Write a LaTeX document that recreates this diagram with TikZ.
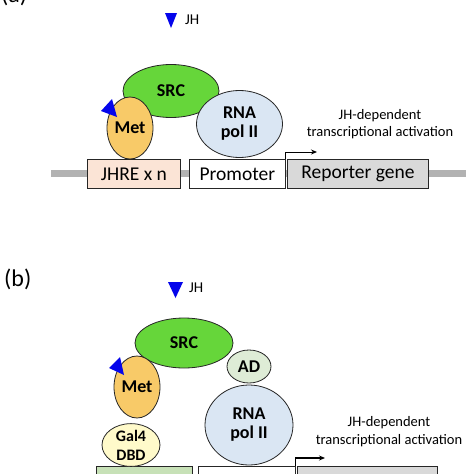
\documentclass[tikz,border=0pt]{standalone}
\usepackage{fontspec}
\setmainfont{Carlito}
\usetikzlibrary{shapes.geometric,arrows.meta}
\definecolor{srcgreen}{RGB}{102,214,58}
\definecolor{metorange}{RGB}{248,202,104}
\definecolor{polblue}{RGB}{218,230,243}
\definecolor{adgreen}{RGB}{222,236,214}
\definecolor{galyellow}{RGB}{255,250,202}
\definecolor{jhrepink}{RGB}{251,228,214}
\definecolor{repgray}{RGB}{217,217,217}
\definecolor{uasgreen}{RGB}{199,225,183}
\definecolor{dnagray}{RGB}{178,178,178}
\definecolor{jhblue}{RGB}{5,5,235}
\tikzset{
  blob/.style={ellipse, draw=black!85, line width=0.8pt, inner sep=0pt, align=center,
    font=\bfseries\fontsize{18}{19}\selectfont},
  dnabox/.style={rectangle, draw=black!85, line width=0.8pt, inner sep=0pt, anchor=north west,
    minimum height=29pt, font=\fontsize{19.5}{20}\selectfont},
  dna/.style={draw=dnagray, line width=7pt},
  ligand/.style={fill=jhblue, draw=none},
  lbl/.style={font=\fontsize{15}{16}\selectfont, anchor=west, inner sep=0pt},
  note/.style={font=\fontsize{14.5}{17.5}\selectfont, align=center, inner sep=0pt},
  tss/.style={draw=black, line width=0.9pt, -{Stealth[length=6pt,width=5pt]}},
  panel/.style={font=\fontsize{24}{26}\selectfont, anchor=west, inner sep=0pt}
}
\begin{document}
\begin{tikzpicture}[x=1pt,y=-1pt]
\useasboundingbox (0,0) rectangle (474,474);
\begin{scope}
\clip (0,0) rectangle (474,474);
\fill[white] (0,0) rectangle (474,474);

% ---------------- panel (a) ----------------
\node[panel] (pa) at (1,-5) {(a)};
\fill[ligand] (165,13) -- (177,13) -- (171,28) -- cycle;
\node[lbl] (jha) at (185,20) {JH};

\coordinate (dnaLa) at (51,173);
\coordinate (dnaRa) at (466,173);
\draw[dna] (dnaLa) -- (dnaRa);

\node[dnabox, fill=jhrepink, minimum width=93pt] (jhre) at (87,159) {JHRE x n};
\node[dnabox, fill=white, minimum width=96pt] (proma) at (189,159) {Promoter};
\node[dnabox, fill=repgray, minimum width=141pt] (repa) at (287,159) {Reporter gene};
\coordinate (tssa) at (317,152);
\draw[tss] (proma.north east) |- (tssa);

\node[note] (acta) at (380,124) {JH-dependent\\transcriptional activation};

\node[blob, fill=srcgreen, minimum width=96pt, minimum height=53pt] (srca) at (171,91) {SRC};
\node[blob, fill=metorange, minimum width=46pt, minimum height=62pt] (meta) at (130,128) {Met};
\fill[ligand] (101,111) -- (112,99) -- (117,117) -- cycle;
\node[blob, fill=polblue, minimum width=86pt, minimum height=67pt] (pola) at (239.5,124) {RNA\\pol II};

% ---------------- panel (b) ----------------
\node[panel] (pb) at (4,279) {(b)};
\fill[ligand] (168,282) -- (183,282) -- (175.5,298) -- cycle;
\node[lbl] (jhb) at (189,288) {JH};

\coordinate (dnaLb) at (51,480);
\coordinate (dnaRb) at (466,480);
\draw[dna] (dnaLb) -- (dnaRb);

\node[dnabox, fill=uasgreen, minimum width=96pt] (uas) at (96,466) {};
\node[dnabox, fill=white, minimum width=97pt] (promb) at (198,466) {};
\node[dnabox, fill=repgray, minimum width=140pt] (repb) at (297,466) {};
\coordinate (tssb) at (325,458);
\draw[tss, line width=1.3pt] (promb.north east) |- (tssb);

\node[note] (actb) at (389,431.5) {JH-dependent\\transcriptional activation};

\node[blob, fill=srcgreen, minimum width=98pt, minimum height=50pt] (srcb) at (184,343) {SRC};
\node[blob, fill=adgreen, minimum width=44pt, minimum height=33pt] (ad) at (249,366.5) {AD};
\node[blob, fill=metorange, minimum width=46pt, minimum height=62pt] (metb) at (137,387) {Met};
\fill[ligand] (109,368) -- (120,357) -- (124,375) -- cycle;
\node[blob, fill=galyellow, minimum width=58pt, minimum height=40pt,
  font=\bfseries\fontsize{16}{19}\selectfont] (gal) at (131,445) {Gal4\\DBD};
\node[blob, fill=polblue, minimum width=88pt, minimum height=80pt] (polb) at (249,425) {RNA\\pol II};
\end{scope}
\end{tikzpicture}
\end{document}
